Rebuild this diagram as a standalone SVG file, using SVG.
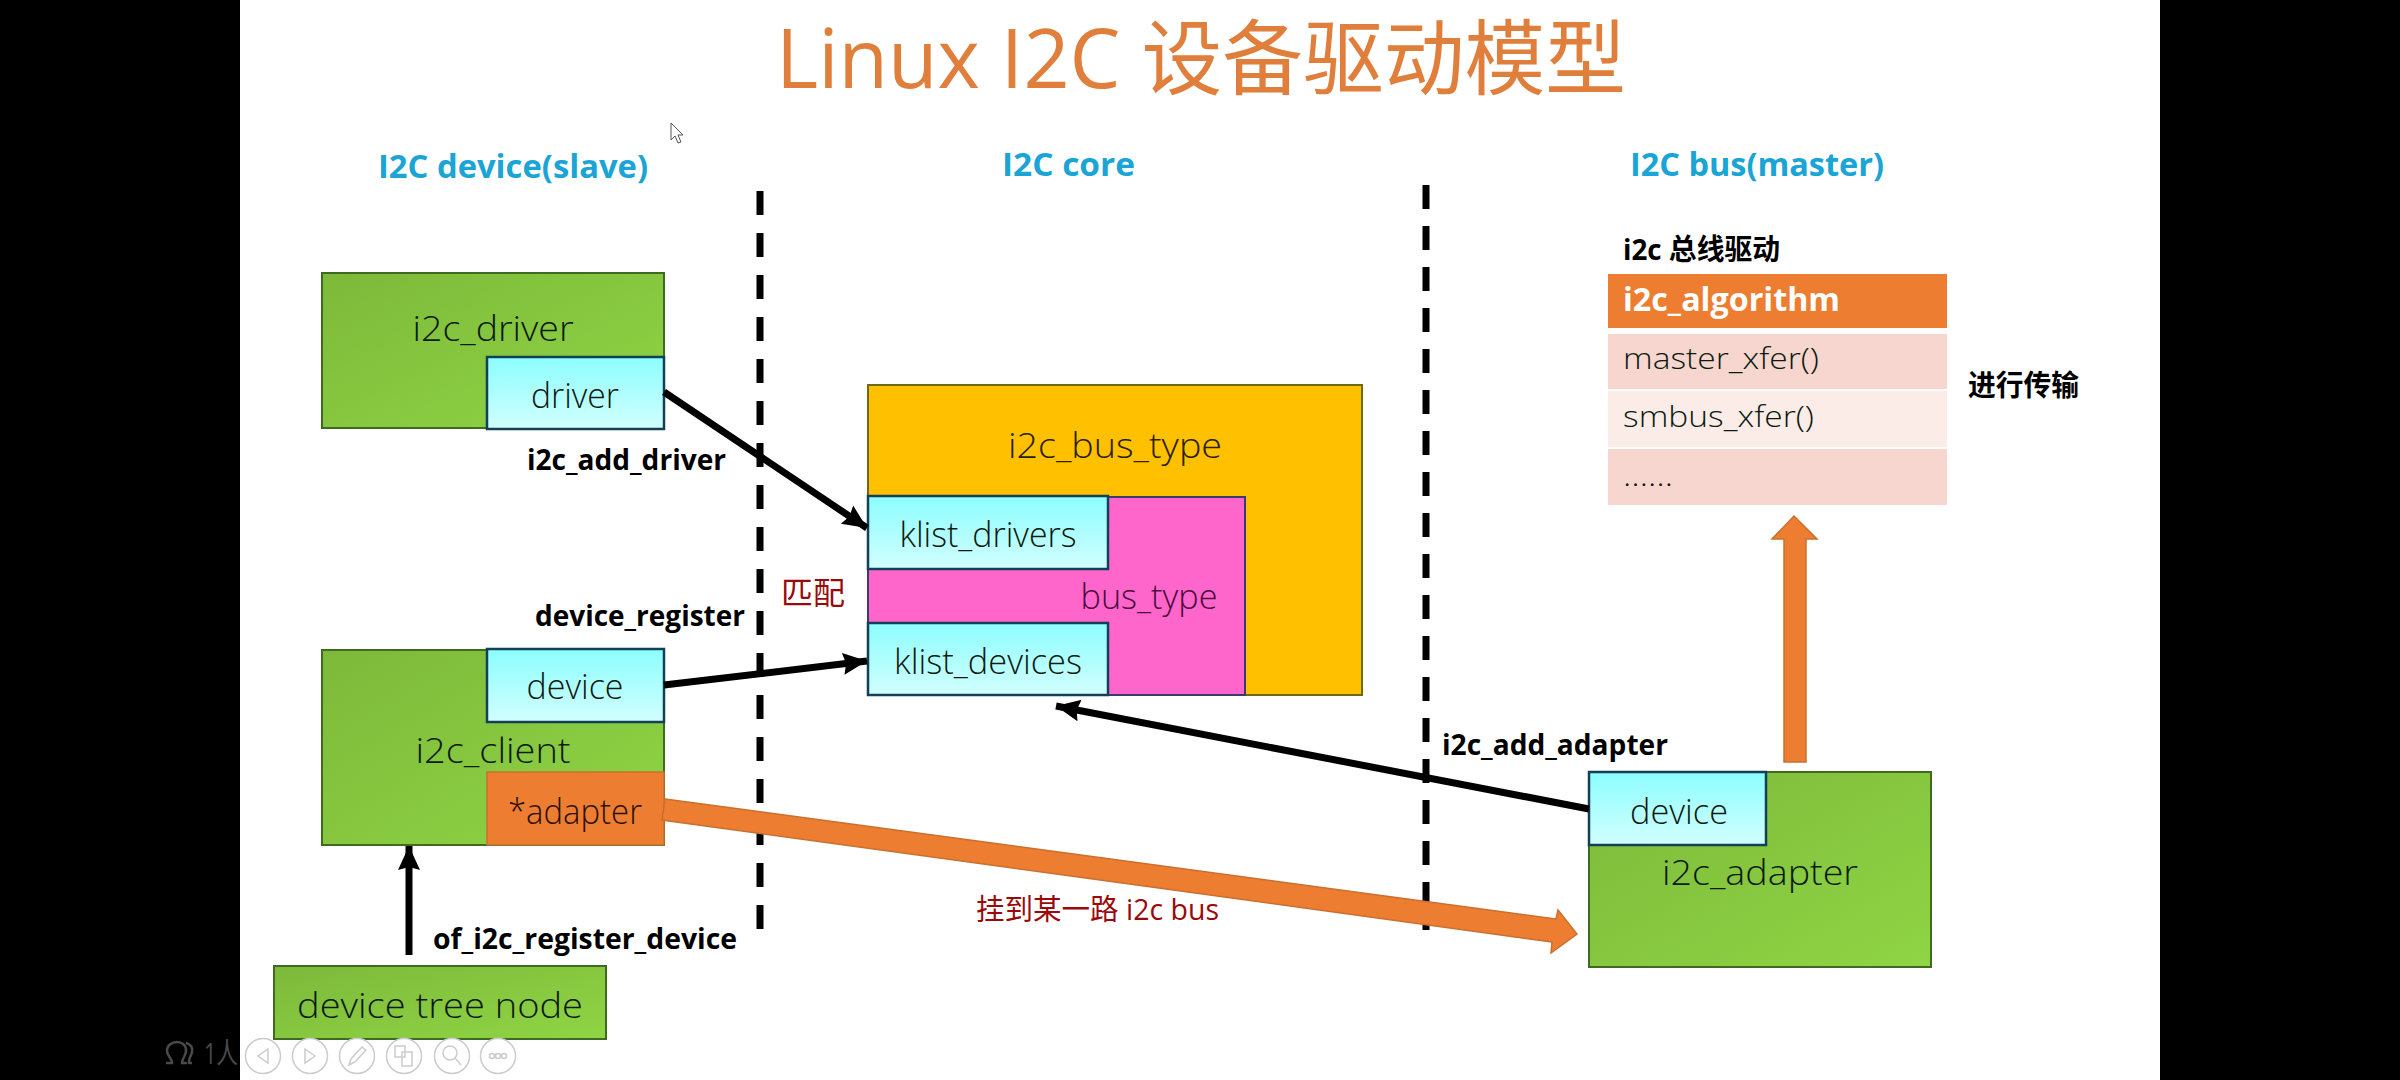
<svg xmlns="http://www.w3.org/2000/svg" width="2400" height="1080" viewBox="0 0 2400 1080">
<style>
text{font-family:"Open Sans","Noto Sans CJK SC",sans-serif;fill:#0c1a10}
.t{font-size:35px;font-weight:300}
.b{font-size:29px;font-weight:700;fill:#000}
.h{font-size:32px;font-weight:700;fill:#1AA5D6}
.r{font-size:29px;fill:#9A0A0A}
.g{fill:url(#gg);stroke:#3F6B21;stroke-width:2}
.c{fill:url(#cg);stroke:#12405A;stroke-width:2.5}
.o{fill:#ED7D31;stroke:#C9702F;stroke-width:1.5}
.k{fill:none;stroke:#000;stroke-width:7}
.d{stroke:#000;stroke-width:7;fill:none}
.ic{fill:#fff;stroke:#ccc;stroke-width:1.5}
.ii{fill:none;stroke:#ccc;stroke-width:1.5}
</style>
<defs>
<linearGradient id="gg" x1="0" y1="0" x2="1" y2="1"><stop offset="0" stop-color="#7DB93A"/><stop offset="1" stop-color="#8FD544"/></linearGradient>
<linearGradient id="cg" x1="0" y1="0" x2="0" y2="1"><stop offset="0" stop-color="#8CFEFE"/><stop offset="1" stop-color="#D2FEFE"/></linearGradient>
<marker id="ah" markerUnits="userSpaceOnUse" markerWidth="26" markerHeight="24" refX="24" refY="12" orient="auto"><path d="M0 1L24 12L0 23L3 12Z" fill="#000"/></marker>
</defs>
<rect width="2400" height="1080" fill="#fff"/>
<rect width="240" height="1080" fill="#000"/>
<rect x="2160" width="240" height="1080" fill="#000"/>
<text x="776" y="88" font-size="82" style="fill:#E07F3C;font-weight:400" textLength="850" lengthAdjust="spacingAndGlyphs">Linux I2C 设备驱动模型</text>
<path d="M671 123V140L675 136L678 143L681 142L678 135L683 135Z" fill="#fff" stroke="#555" stroke-width="1"/>
<text class="h" x="378" y="178" textLength="270" lengthAdjust="spacingAndGlyphs">I2C device(slave)</text>
<text class="h" x="1002" y="176" textLength="133" lengthAdjust="spacingAndGlyphs">I2C core</text>
<text class="h" x="1630" y="176" textLength="254" lengthAdjust="spacingAndGlyphs">I2C bus(master)</text>
<g id="dividers">
<path class="d" d="M760 191V930" stroke-dasharray="24 18"/>
<path class="d" d="M1426 185V930" stroke-dasharray="24 17"/>
</g>
<g id="i2c_driver">
<rect class="g" x="322" y="273" width="342" height="155"/>
<text class="t" x="493" y="341" text-anchor="middle" textLength="161" lengthAdjust="spacingAndGlyphs">i2c_driver</text>
<rect class="c" x="487" y="357" width="177" height="72"/>
<text class="t" x="575" y="408" text-anchor="middle" textLength="88" lengthAdjust="spacingAndGlyphs">driver</text>
</g>
<g id="i2c_client">
<rect class="g" x="322" y="650" width="342" height="195"/>
<text class="t" x="493" y="763" text-anchor="middle" textLength="155" lengthAdjust="spacingAndGlyphs">i2c_client</text>
<rect class="c" x="487" y="649" width="177" height="73"/>
<text class="t" x="575" y="699" text-anchor="middle" textLength="97" lengthAdjust="spacingAndGlyphs">device</text>
<rect class="o" x="487" y="772" width="177" height="73"/>
<text class="t" x="575" y="824" text-anchor="middle" textLength="134" lengthAdjust="spacingAndGlyphs" style="fill:#2a1005">*adapter</text>
</g>
<g id="device_tree_node">
<rect class="g" x="274" y="966" width="332" height="73"/>
<text class="t" x="440" y="1018" text-anchor="middle" textLength="286" lengthAdjust="spacingAndGlyphs">device tree node</text>
</g>
<g id="i2c_bus_type">
<rect x="868" y="385" width="494" height="310" fill="#FFC000" stroke="#6F6A10" stroke-width="2"/>
<text class="t" x="1115" y="458" text-anchor="middle" textLength="214" lengthAdjust="spacingAndGlyphs" style="fill:#2a2005">i2c_bus_type</text>
<rect x="868" y="497" width="377" height="198" fill="#FF66CC" stroke="#3D3A70" stroke-width="2"/>
<text class="t" x="1149" y="609" text-anchor="middle" textLength="137" lengthAdjust="spacingAndGlyphs" style="fill:#4a0a3a">bus_type</text>
<rect class="c" x="868" y="496" width="240" height="73"/>
<text class="t" x="988" y="547" text-anchor="middle" textLength="177" lengthAdjust="spacingAndGlyphs">klist_drivers</text>
<rect class="c" x="868" y="623" width="240" height="72"/>
<text class="t" x="988" y="674" text-anchor="middle" textLength="188" lengthAdjust="spacingAndGlyphs">klist_devices</text>
</g>
<g id="i2c_algorithm">
<rect x="1608" y="274" width="339" height="54" fill="#ED7D31"/>
<text x="1623" y="311" font-size="33" font-weight="700" style="fill:#fff" textLength="217" lengthAdjust="spacingAndGlyphs">i2c_algorithm</text>
<rect x="1608" y="334" width="339" height="55" fill="#F6D6CE"/>
<text class="t" x="1623" y="369" style="font-size:30px" textLength="196" lengthAdjust="spacingAndGlyphs">master_xfer()</text>
<rect x="1608" y="391" width="339" height="56" fill="#FBECE8"/>
<text class="t" x="1623" y="427" style="font-size:30px" textLength="191" lengthAdjust="spacingAndGlyphs">smbus_xfer()</text>
<rect x="1608" y="449" width="339" height="56" fill="#F6D6CE"/>
<text class="t" x="1623" y="486" style="font-size:30px" textLength="50" lengthAdjust="spacingAndGlyphs">……</text>
</g>
<g id="i2c_adapter">
<rect class="g" x="1589" y="772" width="342" height="195"/>
<text class="t" x="1760" y="885" text-anchor="middle" textLength="196" lengthAdjust="spacingAndGlyphs">i2c_adapter</text>
<rect class="c" x="1589" y="772" width="177" height="73"/>
<text class="t" x="1679" y="824" text-anchor="middle" textLength="98" lengthAdjust="spacingAndGlyphs">device</text>
</g>
<g id="connectors">
<path class="k" d="M664 392L867 528" marker-end="url(#ah)"/>
<path class="k" d="M664 685L867 661" marker-end="url(#ah)"/>
<path class="k" d="M1589 809L1056 706" marker-end="url(#ah)"/>
<path class="k" d="M409 955V846" marker-end="url(#ah)"/>
<path class="o" d="M665 799L1556 919L1558 910L1577 934L1551 953L1552 942L662 820Z"/>
<path class="o" d="M1784 762V539H1772L1794 516L1817 539H1806V762Z"/>
</g>
<text class="b" x="527" y="470" textLength="199" lengthAdjust="spacingAndGlyphs">i2c_add_driver</text>
<text class="b" x="535" y="626" textLength="210" lengthAdjust="spacingAndGlyphs">device_register</text>
<text class="b" x="433" y="949" textLength="304" lengthAdjust="spacingAndGlyphs">of_i2c_register_device</text>
<text class="b" x="1442" y="755" textLength="226" lengthAdjust="spacingAndGlyphs">i2c_add_adapter</text>
<text class="b" x="1623" y="260" textLength="157" lengthAdjust="spacingAndGlyphs">i2c 总线驱动</text>
<text class="b" x="1968" y="396" textLength="111" lengthAdjust="spacingAndGlyphs">进行传输</text>
<text class="r" x="781" y="604" style="font-size:31px" textLength="64" lengthAdjust="spacingAndGlyphs">匹配</text>
<text class="r" x="976" y="920" textLength="243" lengthAdjust="spacingAndGlyphs">挂到某一路 i2c bus</text>
<g id="toolbar">
<text x="204" y="1064" style="font-size:29px;fill:#4a4a4a" textLength="34" lengthAdjust="spacingAndGlyphs">1人</text>
<path d="M166 1063H172C172 1058 167 1056 167 1051C167 1045 172 1042 177 1042C182 1042 186 1045 186 1051C186 1056 182 1058 182 1063H187M186 1043C191 1044 193 1048 192 1052C191 1057 188 1059 189 1063H192" fill="none" stroke="#4a4a4a" stroke-width="2.5"/>
<circle class="ic" cx="263" cy="1056" r="17.5"/><path class="ii" d="M268 1049L258 1056L268 1063Z"/>
<circle class="ic" cx="310" cy="1056" r="17.5"/><path class="ii" d="M305 1049L315 1056L305 1063Z"/>
<circle class="ic" cx="357" cy="1056" r="17.5"/><path class="ii" d="M349 1065L351 1059L362 1047L366 1050L355 1062Z"/>
<circle class="ic" cx="404" cy="1056" r="17.5"/><path class="ii" d="M395 1046H405V1057H395ZM402 1052H412V1066H402Z"/>
<circle class="ic" cx="452" cy="1056" r="17.5"/><circle class="ii" cx="450" cy="1053" r="7"/><path class="ii" d="M455 1058L461 1065"/>
<circle class="ic" cx="498" cy="1056" r="17.5"/><circle class="ii" cx="492" cy="1056" r="2.5"/><circle class="ii" cx="498" cy="1056" r="2.5"/><circle class="ii" cx="504" cy="1056" r="2.5"/>
</g>
</svg>
